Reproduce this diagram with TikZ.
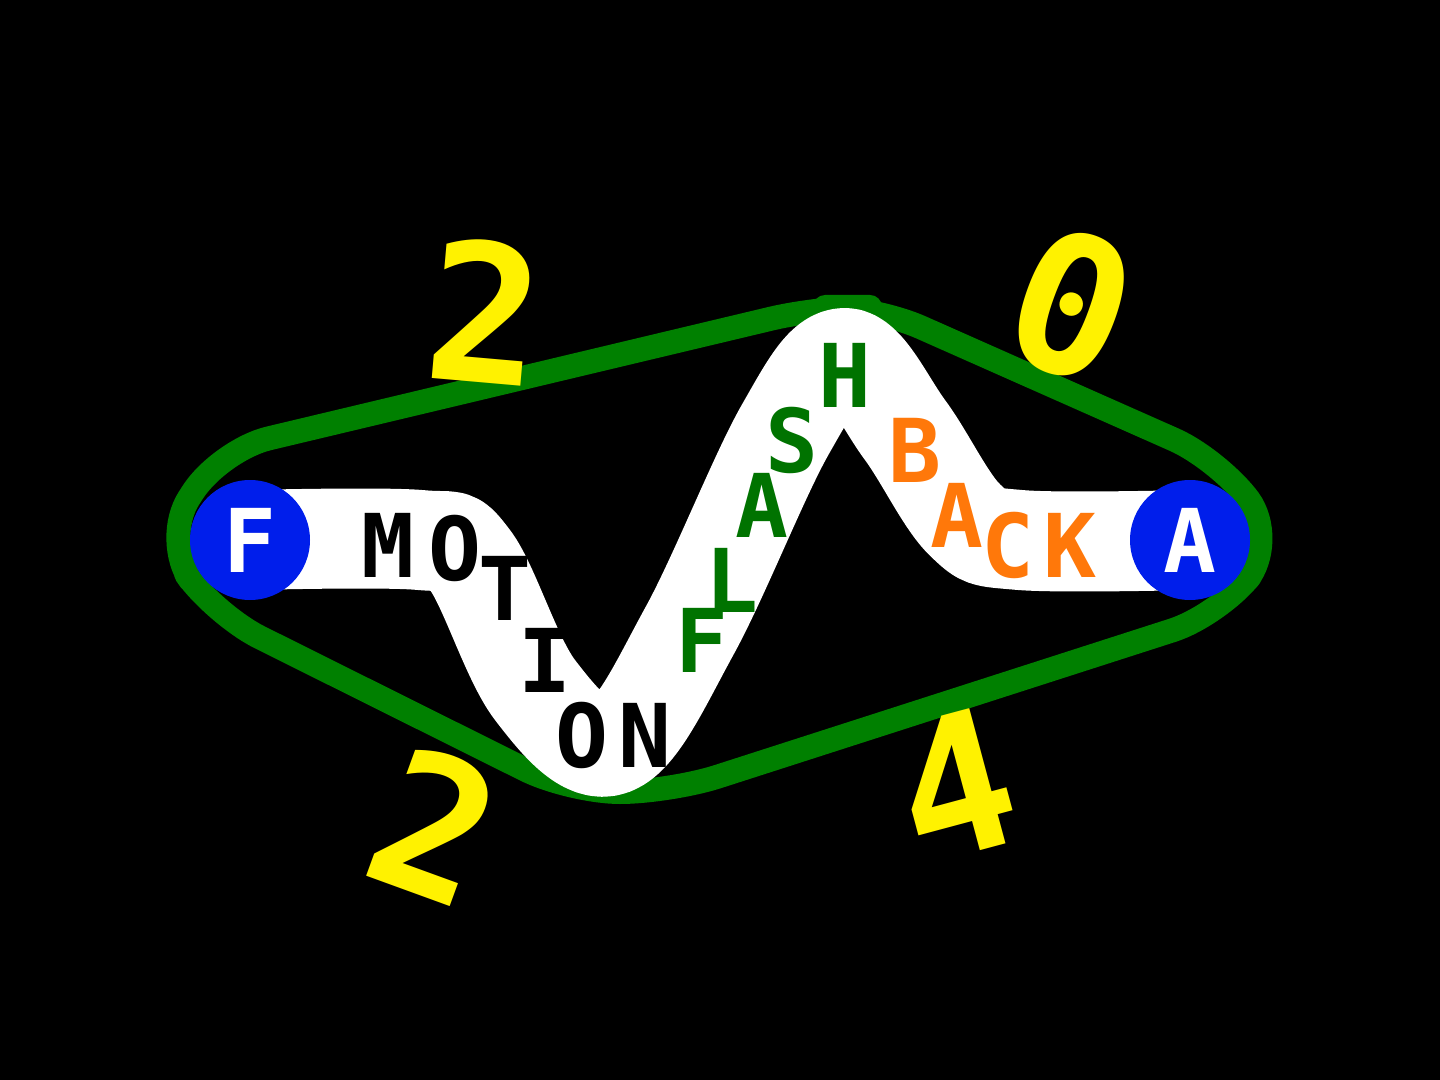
\documentclass[tikz,border=0pt]{standalone}
\usepackage{fontspec}
\setmainfont{DejaVu Sans Mono}
\begin{document}
\begin{tikzpicture}[x=0.5pt,y=-0.5pt,
  ltr/.style={font=\bfseries\fontsize{44}{44}\selectfont},
  dig/.style={font=\bfseries\fontsize{96}{96}\selectfont,text=yellow}]
\fill[black] (0,0) rectangle (1440,1080);
\useasboundingbox (0,0) rectangle (1440,1080);
\definecolor{dg}{RGB}{0,115,0}
\definecolor{gr}{RGB}{0,128,0}
\definecolor{og}{RGB}{255,120,10}
\definecolor{bl}{RGB}{0,30,235}
\draw[gr,line width=12pt,line join=round,rounded corners=25pt] (162,540) -- (220,450) -- (820,307) -- (875,307) -- (1220,460) -- (1278,540) -- (1220,615) -- (670,792) -- (570,792) -- (215,615) -- cycle;
\draw[white,line width=50pt,line join=round] plot[smooth,tension=0.6] coordinates {(250,540)(420,540)(470,560)(535,690)(612,745)(690,630)(785,430)(845,358)(905,430)(965,520)(1020,540)(1190,540)};
\node[circle,fill=bl,minimum size=60pt,text=white,ltr] (cf) at (250,540) {F};
\node[circle,fill=bl,minimum size=60pt,text=white,ltr] (ca) at (1190,540) {A};
\foreach \c/\x/\y in {M/388/545, O/455/548, T/505/588, I/545/660, O/582/735, N/645/735}
  \node[ltr,text=black] at (\x,\y) {\c};
\foreach \c/\x/\y in {F/702/640, L/732/580, A/762/505, S/792/440, H/845/375}
  \node[ltr,text=dg] at (\x,\y) {\c};
\foreach \c/\x/\y in {B/915/450, A/957/515, C/1008/545, K/1070/545}
  \node[ltr,text=og] at (\x,\y) {\c};
\node[dig,rotate=-5] (d1) at (485,312) {2};
\node[dig,rotate=-20] (d2) at (1072,305) {0};
\node[dig,rotate=-20] (d3) at (435,825) {2};
\node[dig,rotate=15] (d4) at (955,785) {4};
\end{tikzpicture}
\end{document}
